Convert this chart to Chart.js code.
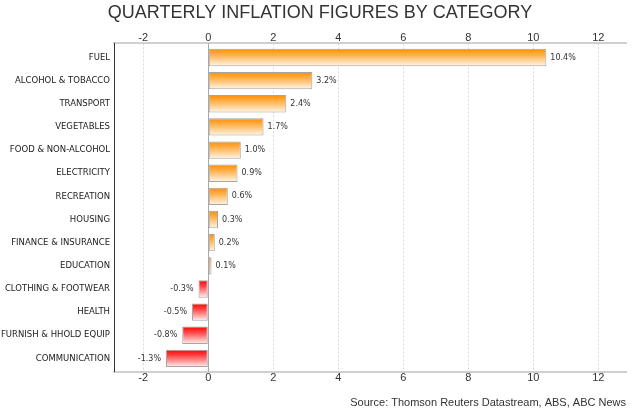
<!DOCTYPE html>
<html>
<head>
<meta charset="utf-8">
<script src="https://cdn.jsdelivr.net/npm/chart.js@4"></script>
<style>
  html, body { margin: 0; padding: 0; background: #fff; }
  #wrap { width: 640px; height: 410px; }
</style>
</head>
<body>
<div id="wrap"><canvas id="chart1"></canvas></div>
<script>
// donnees
const categories = ["FUEL", "ALCOHOL & TOBACCO", "TRANSPORT", "VEGETABLES", "FOOD & NON-ALCOHOL",
	"ELECTRICITY", "RECREATION", "HOUSING", "FINANCE & INSURANCE", "EDUCATION",
	"CLOTHING & FOOTWEAR", "HEALTH", "FURNISH & HHOLD EQUIP", "COMMUNICATION"];
const values = [10.4, 3.2, 2.4, 1.7, 1.0, 0.9, 0.6, 0.3, 0.2, 0.1, -0.3, -0.5, -0.8, -1.3];
const tickValues = [-2, 0, 2, 4, 6, 8, 10, 12];
const axisMin = -2.9;
const axisMax = 12.85;

const titleText = 'QUARTERLY INFLATION FIGURES BY CATEGORY';
const sourceText = 'Source: Thomson Reuters Datastream, ABS, ABC News';

const BAR_FRAC = 0.75;
// un peu de vide en haut / en bas de l'axe des categories (comme l'original)
const CAT_PAD_TOP = 0.107;
const CAT_PAD_BOTTOM = 0.077;

// degrade vertical pour chaque barre (fonce en haut, clair en bas)
function barGradient(context) {
	const chart = context.chart;
	const y = chart.scales.y;
	const v = values[context.dataIndex];
	const plain = v < 0 ? '#ff3030' : '#ffa030';
	if (!y || context.dataIndex === undefined) return plain;
	const mid = y.getPixelForValue(context.dataIndex);
	const half = Math.abs(y.getPixelForValue(1) - y.getPixelForValue(0)) * BAR_FRAC / 2;
	if (!isFinite(mid) || !isFinite(half) || half <= 0) return plain;
	const g = chart.ctx.createLinearGradient(0, mid - half, 0, mid + half);
	if (v >= 0) {
		g.addColorStop(0, '#ff8c00');
		g.addColorStop(0.35, '#ffb04a');
		g.addColorStop(1, '#fff6ea');
	} else {
		g.addColorStop(0, '#ff0000');
		g.addColorStop(0.35, '#ff4a4a');
		g.addColorStop(1, '#fff2f2');
	}
	return g;
}

function fixTicks(scale) {
	scale.ticks = tickValues.map(function (v) { return { value: v }; });
}

// titre, ligne du zero + etiquettes de valeurs
const extras = {
	id: 'extras',
	beforeDatasetsDraw(chart) {
		const ctx = chart.ctx;
		const x0 = chart.scales.x.getPixelForValue(0);
		ctx.save();
		ctx.strokeStyle = '#a8a8a8';
		ctx.lineWidth = 1;
		ctx.beginPath();
		ctx.moveTo(Math.round(x0) + 0.5, chart.chartArea.top);
		ctx.lineTo(Math.round(x0) + 0.5, chart.chartArea.bottom);
		ctx.stroke();
		ctx.restore();
	},
	afterDatasetsDraw(chart) {
		const ctx = chart.ctx;
		const meta = chart.getDatasetMeta(0);
		ctx.save();
		ctx.font = '8px "DejaVu Sans", sans-serif';
		ctx.fillStyle = '#333';
		ctx.textBaseline = 'middle';
		meta.data.forEach(function (bar, i) {
			const v = values[i];
			const txt = v.toFixed(1) + '%';
			if (v >= 0) {
				ctx.textAlign = 'left';
				ctx.fillText(txt, bar.x + 4, bar.y);
			} else {
				ctx.textAlign = 'right';
				ctx.fillText(txt, bar.x - 5, bar.y);
			}
		});
		ctx.restore();
	},
	afterDraw(chart) {
		const ctx = chart.ctx;
		ctx.save();
		ctx.font = '18px "Liberation Sans", Arial, sans-serif';
		ctx.fillStyle = '#333';
		ctx.textAlign = 'center';
		ctx.textBaseline = 'middle';
		ctx.fillText(titleText, chart.width / 2, 13);
		ctx.restore();
	}
};

const tickFont = { family: '"Liberation Sans", Arial, sans-serif', size: 11 };

new Chart(document.getElementById('chart1'), {
	type: 'bar',
	data: {
		labels: categories,
		datasets: [{
			data: values,
			backgroundColor: barGradient,
			borderColor: '#a5a5a5',
			borderWidth: 1,
			borderSkipped: false,
			categoryPercentage: 1,
			barPercentage: BAR_FRAC,
			xAxisID: 'x',
		}]
	},
	options: {
		indexAxis: 'y',
		responsive: true,
		maintainAspectRatio: false,
		animation: false,
		layout: { padding: { left: 0, right: 14, top: 29, bottom: 0 } },
		plugins: {
			legend: { display: false },
			tooltip: { enabled: false },
			title: { display: false },
			subtitle: {
				display: true,
				position: 'bottom',
				align: 'end',
				text: sourceText,
				color: '#333',
				font: { family: '"Liberation Sans", Arial, sans-serif', size: 11 },
				padding: { top: 3, bottom: 0 }
			}
		},
		scales: {
			x: {
				type: 'linear',
				position: 'bottom',
				min: axisMin,
				max: axisMax,
				afterBuildTicks: fixTicks,
				afterFit(scale) { scale.height = 22; },
				ticks: { color: '#333', font: tickFont, padding: 0 },
				grid: { color: '#d8d8d8', drawTicks: false },
				border: { color: '#d0d0d0', width: 2, dash: [2, 2] }
			},
			x2: {
				type: 'linear',
				position: 'top',
				min: axisMin,
				max: axisMax,
				afterBuildTicks: fixTicks,
				afterFit(scale) { scale.height = 14.4; },
				ticks: { color: '#333', font: tickFont, padding: -1 },
				grid: { display: false, drawTicks: false },
				border: { color: '#d0d0d0', width: 2 }
			},
			y: {
				afterBuildTicks(scale) {
					// elargit un peu la plage de l'axe categorie
					scale._startValue -= CAT_PAD_TOP;
					scale._valueRange += CAT_PAD_TOP + CAT_PAD_BOTTOM;
				},
				afterFit(scale) { scale.width = 114; },
				ticks: {
					color: '#222',
					font: { family: '"DejaVu Sans", sans-serif', size: 8.5 },
					padding: 4,
					autoSkip: false
				},
				grid: { display: false, drawTicks: false },
				border: { color: '#333', width: 1 }
			}
		}
	},
	plugins: [extras]
});
</script>
</body>
</html>
